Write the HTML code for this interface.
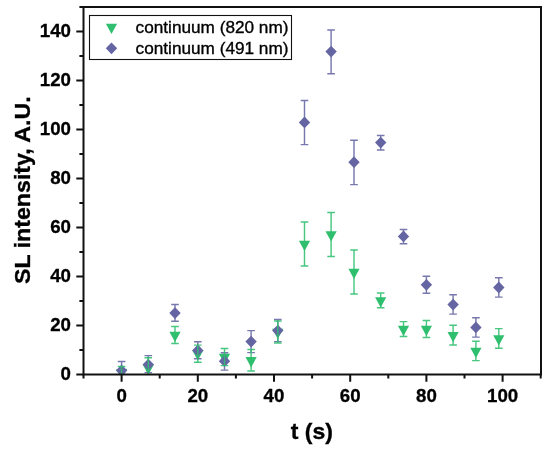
<!DOCTYPE html>
<html lang="en"><head><meta charset="utf-8"><title>SL intensity vs t</title>
<style>html,body{margin:0;padding:0;background:#fff}body{width:550px;height:453px;overflow:hidden}svg{display:block}text{font-family:"Liberation Sans",Arial,Helvetica,sans-serif;fill:#000}</style></head><body>
<svg width="550" height="453" viewBox="0 0 550 453">
<rect width="550" height="453" fill="#fff"/>
<defs><clipPath id="plot"><rect x="83.5" y="7.0" width="457.5" height="367.5"/></clipPath></defs>
<g clip-path="url(#plot)">
<polygon points="116.0,369.1 127.2,369.1 121.6,379.4" fill="#2fbf6e"/>
<polygon points="142.7,364.6 153.9,364.6 148.3,374.9" fill="#2fbf6e"/>
<polygon points="169.4,331.8 180.6,331.8 175.0,342.1" fill="#2fbf6e"/>
<polygon points="192.2,350.3 203.4,350.3 197.8,360.6" fill="#2fbf6e"/>
<polygon points="218.9,353.8 230.1,353.8 224.5,364.1" fill="#2fbf6e"/>
<polygon points="245.5,357.1 256.7,357.1 251.1,367.4" fill="#2fbf6e"/>
<polygon points="272.2,328.8 283.4,328.8 277.8,339.1" fill="#2fbf6e"/>
<polygon points="298.9,240.8 310.1,240.8 304.5,251.1" fill="#2fbf6e"/>
<polygon points="325.5,231.2 336.7,231.2 331.1,241.5" fill="#2fbf6e"/>
<polygon points="348.4,268.8 359.6,268.8 354.0,279.1" fill="#2fbf6e"/>
<polygon points="375.1,297.2 386.3,297.2 380.7,307.5" fill="#2fbf6e"/>
<polygon points="397.9,325.8 409.1,325.8 403.5,336.1" fill="#2fbf6e"/>
<polygon points="420.8,325.8 432.0,325.8 426.4,336.1" fill="#2fbf6e"/>
<polygon points="447.5,332.0 458.7,332.0 453.1,342.3" fill="#2fbf6e"/>
<polygon points="470.3,347.8 481.5,347.8 475.9,358.1" fill="#2fbf6e"/>
<polygon points="493.2,335.3 504.4,335.3 498.8,345.6" fill="#2fbf6e"/>
<polygon points="115.9,370.4 121.6,364.5 127.3,370.4 121.6,376.3" fill="#6465a2"/>
<polygon points="142.6,364.6 148.3,358.7 154.0,364.6 148.3,370.5" fill="#6465a2"/>
<polygon points="169.3,313.1 175.0,307.2 180.7,313.1 175.0,319.0" fill="#6465a2"/>
<polygon points="192.1,350.4 197.8,344.5 203.5,350.4 197.8,356.3" fill="#6465a2"/>
<polygon points="218.8,361.2 224.5,355.3 230.2,361.2 224.5,367.1" fill="#6465a2"/>
<polygon points="245.4,341.6 251.1,335.7 256.8,341.6 251.1,347.5" fill="#6465a2"/>
<polygon points="272.1,330.6 277.8,324.7 283.5,330.6 277.8,336.5" fill="#6465a2"/>
<polygon points="298.8,122.4 304.5,116.5 310.2,122.4 304.5,128.3" fill="#6465a2"/>
<polygon points="325.4,51.6 331.1,45.7 336.8,51.6 331.1,57.5" fill="#6465a2"/>
<polygon points="348.3,162.2 354.0,156.3 359.7,162.2 354.0,168.1" fill="#6465a2"/>
<polygon points="375.0,142.6 380.7,136.7 386.4,142.6 380.7,148.5" fill="#6465a2"/>
<polygon points="397.8,236.4 403.5,230.5 409.2,236.4 403.5,242.3" fill="#6465a2"/>
<polygon points="420.7,284.8 426.4,278.9 432.1,284.8 426.4,290.7" fill="#6465a2"/>
<polygon points="447.4,304.6 453.1,298.7 458.8,304.6 453.1,310.5" fill="#6465a2"/>
<polygon points="470.2,327.4 475.9,321.5 481.6,327.4 475.9,333.3" fill="#6465a2"/>
<polygon points="493.1,287.5 498.8,281.6 504.5,287.5 498.8,293.4" fill="#6465a2"/>
<path d="M121.6,361.4V379.4M117.8,361.4H125.4M117.8,379.4H125.4" stroke="#6465a2" stroke-width="1.45" stroke-opacity="0.88" fill="none"/>
<path d="M148.3,355.6V372.6M144.5,355.6H152.1M144.5,372.6H152.1" stroke="#6465a2" stroke-width="1.45" stroke-opacity="0.88" fill="none"/>
<path d="M175.0,304.4V321.3M171.2,304.4H178.8M171.2,321.3H178.8" stroke="#6465a2" stroke-width="1.45" stroke-opacity="0.88" fill="none"/>
<path d="M197.8,341.7V358.7M194.0,341.7H201.6M194.0,358.7H201.6" stroke="#6465a2" stroke-width="1.45" stroke-opacity="0.88" fill="none"/>
<path d="M224.5,352.8V370.1M220.7,352.8H228.3M220.7,370.1H228.3" stroke="#6465a2" stroke-width="1.45" stroke-opacity="0.88" fill="none"/>
<path d="M251.1,330.6V352.6M247.3,330.6H254.9M247.3,352.6H254.9" stroke="#6465a2" stroke-width="1.45" stroke-opacity="0.88" fill="none"/>
<path d="M277.8,319.4V341.6M274.0,319.4H281.6M274.0,341.6H281.6" stroke="#6465a2" stroke-width="1.45" stroke-opacity="0.88" fill="none"/>
<path d="M304.5,100.4V144.6M300.7,100.4H308.3M300.7,144.6H308.3" stroke="#6465a2" stroke-width="1.45" stroke-opacity="0.88" fill="none"/>
<path d="M331.1,29.9V73.8M327.3,29.9H334.9M327.3,73.8H334.9" stroke="#6465a2" stroke-width="1.45" stroke-opacity="0.88" fill="none"/>
<path d="M354.0,140.3V184.6M350.2,140.3H357.8M350.2,184.6H357.8" stroke="#6465a2" stroke-width="1.45" stroke-opacity="0.88" fill="none"/>
<path d="M380.7,135.4V150.0M376.9,135.4H384.5M376.9,150.0H384.5" stroke="#6465a2" stroke-width="1.45" stroke-opacity="0.88" fill="none"/>
<path d="M403.5,229.4V243.7M399.7,229.4H407.3M399.7,243.7H407.3" stroke="#6465a2" stroke-width="1.45" stroke-opacity="0.88" fill="none"/>
<path d="M426.4,276.2V293.3M422.6,276.2H430.2M422.6,293.3H430.2" stroke="#6465a2" stroke-width="1.45" stroke-opacity="0.88" fill="none"/>
<path d="M453.1,294.8V314.1M449.3,294.8H456.9M449.3,314.1H456.9" stroke="#6465a2" stroke-width="1.45" stroke-opacity="0.88" fill="none"/>
<path d="M475.9,317.7V337.1M472.1,317.7H479.7M472.1,337.1H479.7" stroke="#6465a2" stroke-width="1.45" stroke-opacity="0.88" fill="none"/>
<path d="M498.8,277.7V297.1M495.0,277.7H502.6M495.0,297.1H502.6" stroke="#6465a2" stroke-width="1.45" stroke-opacity="0.88" fill="none"/>
<path d="M121.6,366.4V378.4M117.8,366.4H125.4M117.8,378.4H125.4" stroke="#2fbf6e" stroke-width="1.45" stroke-opacity="0.88" fill="none"/>
<path d="M148.3,357.8V378.0M144.5,357.8H152.1M144.5,378.0H152.1" stroke="#2fbf6e" stroke-width="1.45" stroke-opacity="0.88" fill="none"/>
<path d="M175.0,326.4V343.5M171.2,326.4H178.8M171.2,343.5H178.8" stroke="#2fbf6e" stroke-width="1.45" stroke-opacity="0.88" fill="none"/>
<path d="M197.8,345.1V362.2M194.0,345.1H201.6M194.0,362.2H201.6" stroke="#2fbf6e" stroke-width="1.45" stroke-opacity="0.88" fill="none"/>
<path d="M224.5,348.4V365.6M220.7,348.4H228.3M220.7,365.6H228.3" stroke="#2fbf6e" stroke-width="1.45" stroke-opacity="0.88" fill="none"/>
<path d="M251.1,349.4V371.0M247.3,349.4H254.9M247.3,371.0H254.9" stroke="#2fbf6e" stroke-width="1.45" stroke-opacity="0.88" fill="none"/>
<path d="M277.8,321.0V343.0M274.0,321.0H281.6M274.0,343.0H281.6" stroke="#2fbf6e" stroke-width="1.45" stroke-opacity="0.88" fill="none"/>
<path d="M304.5,222.0V266.0M300.7,222.0H308.3M300.7,266.0H308.3" stroke="#2fbf6e" stroke-width="1.45" stroke-opacity="0.88" fill="none"/>
<path d="M331.1,212.5V256.4M327.3,212.5H334.9M327.3,256.4H334.9" stroke="#2fbf6e" stroke-width="1.45" stroke-opacity="0.88" fill="none"/>
<path d="M354.0,250.0V294.0M350.2,250.0H357.8M350.2,294.0H357.8" stroke="#2fbf6e" stroke-width="1.45" stroke-opacity="0.88" fill="none"/>
<path d="M380.7,293.0V307.8M376.9,293.0H384.5M376.9,307.8H384.5" stroke="#2fbf6e" stroke-width="1.45" stroke-opacity="0.88" fill="none"/>
<path d="M403.5,321.6V336.4M399.7,321.6H407.3M399.7,336.4H407.3" stroke="#2fbf6e" stroke-width="1.45" stroke-opacity="0.88" fill="none"/>
<path d="M426.4,320.5V337.4M422.6,320.5H430.2M422.6,337.4H430.2" stroke="#2fbf6e" stroke-width="1.45" stroke-opacity="0.88" fill="none"/>
<path d="M453.1,325.3V345.0M449.3,325.3H456.9M449.3,345.0H456.9" stroke="#2fbf6e" stroke-width="1.45" stroke-opacity="0.88" fill="none"/>
<path d="M475.9,341.3V360.6M472.1,341.3H479.7M472.1,360.6H479.7" stroke="#2fbf6e" stroke-width="1.45" stroke-opacity="0.88" fill="none"/>
<path d="M498.8,328.6V348.3M495.0,328.6H502.6M495.0,348.3H502.6" stroke="#2fbf6e" stroke-width="1.45" stroke-opacity="0.88" fill="none"/>
</g>
<rect x="83.5" y="7.0" width="457.5" height="367.5" fill="none" stroke="#111" stroke-width="2"/>
<path d="M83.5,374.4h-7.2M83.5,349.9h-4.1M83.5,325.4h-7.2M83.5,300.9h-4.1M83.5,276.4h-7.2M83.5,251.9h-4.1M83.5,227.4h-7.2M83.5,202.9h-4.1M83.5,178.4h-7.2M83.5,153.9h-4.1M83.5,129.4h-7.2M83.5,104.9h-4.1M83.5,80.4h-7.2M83.5,55.9h-4.1M83.5,31.4h-7.2M83.5,6.9h-4.1M83.5,374.5v4.1M121.6,374.5v7.2M159.7,374.5v4.1M197.8,374.5v7.2M235.9,374.5v4.1M274.0,374.5v7.2M312.1,374.5v4.1M350.2,374.5v7.2M388.3,374.5v4.1M426.4,374.5v7.2M464.5,374.5v4.1M502.6,374.5v7.2M540.7,374.5v4.1" stroke="#111" stroke-width="2" fill="none"/>
<g font-size="18.7" font-weight="bold" stroke="#000" stroke-width="0.3">
<text x="71" y="380.2" text-anchor="end">0</text>
<text x="71" y="331.2" text-anchor="end">20</text>
<text x="71" y="282.2" text-anchor="end">40</text>
<text x="71" y="233.2" text-anchor="end">60</text>
<text x="71" y="184.2" text-anchor="end">80</text>
<text x="71" y="135.2" text-anchor="end">100</text>
<text x="71" y="86.2" text-anchor="end">120</text>
<text x="71" y="37.2" text-anchor="end">140</text>
<text x="121.6" y="401.5" text-anchor="middle">0</text>
<text x="197.8" y="401.5" text-anchor="middle">20</text>
<text x="274.0" y="401.5" text-anchor="middle">40</text>
<text x="350.2" y="401.5" text-anchor="middle">60</text>
<text x="426.4" y="401.5" text-anchor="middle">80</text>
<text x="502.6" y="401.5" text-anchor="middle">100</text>
</g>
<text transform="translate(311.8,438.6) scale(1,0.95)" font-size="23" font-weight="bold" stroke="#000" stroke-width="0.35" text-anchor="middle">t (s)</text>
<text transform="translate(30.0,190.2) rotate(-90) scale(1,0.95)" font-size="23.2" font-weight="bold" stroke="#000" stroke-width="0.35" text-anchor="middle">SL intensity, A.U.</text>
<rect x="89.5" y="15.5" width="202" height="44" fill="#fff" stroke="#111" stroke-width="1.1"/>
<polygon points="105.9,23.7 117.1,23.7 111.5,34.0" fill="#2fbf6e"/>
<polygon points="105.8,48.3 111.5,42.4 117.2,48.3 111.5,54.2" fill="#6465a2"/>
<g font-size="17.2" stroke="#000" stroke-width="0.35"><text transform="translate(135.6,32.6) scale(1,0.96)">continuum (820 nm)</text><text transform="translate(135.6,54.1) scale(1,0.96)">continuum (491 nm)</text></g>
</svg></body></html>
